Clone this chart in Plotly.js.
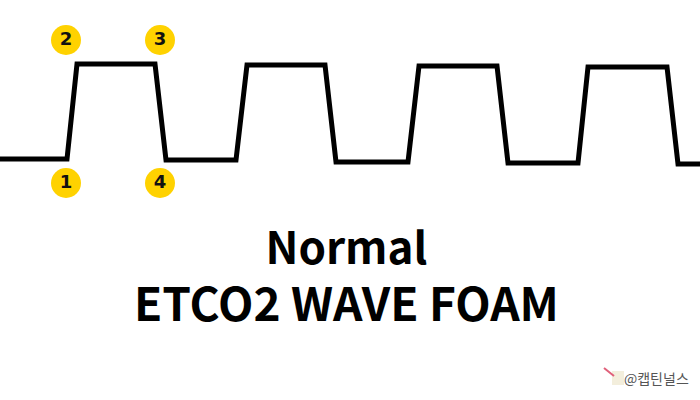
<!DOCTYPE html>
<html>
<head>
<meta charset="utf-8">
<script src="https://cdn.plot.ly/plotly-3.0.1.min.js"></script>
<style>html,body{margin:0;padding:0;background:#fff;}#chart{width:700px;height:400px;}</style>
</head>
<body>
<div id="chart"></div>
<script>
// Waveform vertices (time, level in screen-like units)
var waveTime  = [0, 67, 77, 155, 166, 236, 247, 325, 336, 408, 419, 497, 508, 578, 588, 667, 678, 700];
var waveLevel = [159, 159, 64, 64, 160, 160, 65, 65, 162, 162, 66, 66, 163, 163, 67, 67, 164, 164];

// Phase markers
var phaseLabels = ['1', '2', '3', '4'];
var phaseTime   = [66, 66, 160, 160];
var phaseLevel  = [183, 40, 40, 183];

var titleLines = ['Normal', 'ETCO2 WAVE FOAM'];
var watermark = '@캡틴널스';

var traces = [
  {
    x: waveTime, y: waveLevel, mode: 'lines', type: 'scatter',
    line: {color: '#000000', width: 5, shape: 'linear'},
    hoverinfo: 'skip', showlegend: false
  },
  {
    x: phaseTime, y: phaseLevel, mode: 'markers+text', type: 'scatter',
    text: phaseLabels, textposition: 'middle center',
    textfont: {family: 'DejaVu Sans', size: 18, color: '#111111', weight: 'bold'},
    marker: {size: 30, color: '#FFD200', line: {width: 0}},
    hoverinfo: 'skip', showlegend: false
  }
];

var layout = {
  width: 700, height: 400,
  margin: {l: 0, r: 0, t: 0, b: 0},
  paper_bgcolor: '#ffffff', plot_bgcolor: '#ffffff',
  xaxis: {range: [0, 700], visible: false, fixedrange: true},
  yaxis: {range: [400, 0], visible: false, fixedrange: true},
  annotations: [
    {x: 346, y: 273, xref: 'x', yref: 'y',
     text: '<b>' + titleLines[0] + '</b><br><b><span style="font-size:46px">' + titleLines[1] + '</span></b>',
     showarrow: false, align: 'center',
     font: {family: 'Noto Sans CJK KR', size: 44, color: '#000000'}, xanchor: 'center', yanchor: 'middle'},
    {x: 656, y: 378, xref: 'x', yref: 'y', text: watermark, showarrow: false,
     font: {family: 'Noto Sans CJK KR', size: 14, color: '#555555'}, xanchor: 'center', yanchor: 'middle'}
  ],
  shapes: [
    {type: 'line', xref: 'x', yref: 'y', x0: 604, y0: 368, x1: 614, y1: 376,
     line: {color: '#E0607A', width: 2}},
    {type: 'rect', xref: 'x', yref: 'y', x0: 612, y0: 371, x1: 624, y1: 385,
     fillcolor: '#F3EEDC', line: {width: 0}, layer: 'below'}
  ]
};

Plotly.newPlot('chart', traces, layout, {displayModeBar: false, staticPlot: true});
</script>
</body>
</html>
